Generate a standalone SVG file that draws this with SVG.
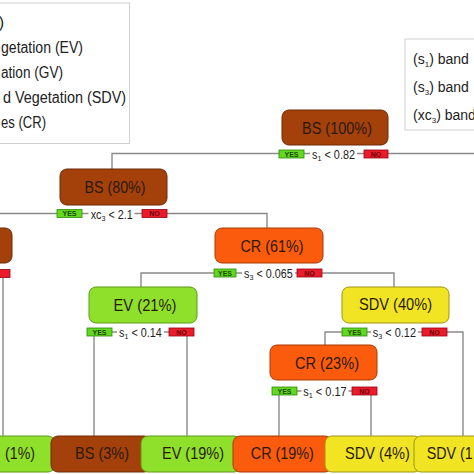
<svg xmlns="http://www.w3.org/2000/svg" width="474" height="474" viewBox="0 0 474 474">
<defs>
<style>
text{font-family:"Liberation Sans",Arial,sans-serif;}
.lg{font-size:16px;fill:#222;}
.lg2{font-size:14px;fill:#222;}
.nt{font-size:16.5px;fill:#2a1a0a;text-anchor:middle;}
.sl{font-size:12px;fill:#222;}
.sub{font-size:8px;}
.bs{fill:#a4400a;stroke:#6e2a05;stroke-width:1;}
.cr{fill:#fb5b0d;stroke:#a83a08;stroke-width:1;}
.ev{fill:#8fe02a;stroke:#5c9a18;stroke-width:1;}
.sdv{fill:#f1e523;stroke:#9e9512;stroke-width:1;}
.yes{fill:#62d81e;stroke:#2f8a0c;stroke-width:0.8;}
.no{fill:#ea1c2c;stroke:#9a0010;stroke-width:0.8;}
.yt{font-size:7px;font-weight:bold;fill:#1c4a04;text-anchor:middle;}
.nn{font-size:7px;font-weight:bold;fill:#6a0008;text-anchor:middle;}
.ln{fill:none;stroke:#8a8a8a;stroke-width:1.4;}
.bg{fill:#ffffff;}
.box{fill:#ffffff;stroke:#cfcfcf;stroke-width:1;}
</style>
</defs>
<rect width="474" height="474" fill="#ffffff"/>

<g id="legend-left">
<rect class="box" x="-5" y="3" width="134.5" height="140.5"/>
<text class="lg" x="4" y="27.5" text-anchor="end">)</text>
<text class="lg" x="83" y="53" text-anchor="end" textLength="82" lengthAdjust="spacingAndGlyphs">getation (EV)</text>
<text class="lg" x="63" y="77.5" text-anchor="end" textLength="62" lengthAdjust="spacingAndGlyphs">ation (GV)</text>
<text class="lg" x="126" y="103" text-anchor="end" textLength="123" lengthAdjust="spacingAndGlyphs">d Vegetation (SDV)</text>
<text class="lg" x="46" y="128" text-anchor="end" textLength="45" lengthAdjust="spacingAndGlyphs">es (CR)</text>
</g>

<g id="legend-right">
<rect class="box" x="405" y="39" width="80" height="91"/>
<text class="lg2" x="413" y="63.5">(s<tspan class="sub" dy="3">1</tspan><tspan dy="-3">) band</tspan></text>
<text class="lg2" x="413" y="91.5">(s<tspan class="sub" dy="3">3</tspan><tspan dy="-3">) band</tspan></text>
<text class="lg2" x="413" y="119.5">(xc<tspan class="sub" dy="3">3</tspan><tspan dy="-3">) band</tspan></text>
</g>

<g id="connectors">
<path class="ln" d="M112,169 V153.5 H279"/>
<path class="ln" d="M304,153.5 H364"/>
<path class="ln" d="M388,153.5 H474"/>
<path class="ln" d="M0,213.5 H57"/>
<path class="ln" d="M82,213.5 H142"/>
<path class="ln" d="M167,213.5 H267 V228"/>
<path class="ln" d="M3,278 V436"/>
<path class="ln" d="M214,273 H141 V287"/>
<path class="ln" d="M236,273 H297"/>
<path class="ln" d="M322,273 H394 V287"/>
<path class="ln" d="M112,332 H169"/>
<path class="ln" d="M94,336 V436"/>
<path class="ln" d="M187,336 V436"/>
<path class="ln" d="M342,332 H325 V345"/>
<path class="ln" d="M367,332 H422"/>
<path class="ln" d="M447,332 H463 V436"/>
<path class="ln" d="M297,391 H352"/>
<path class="ln" d="M279,395 V436"/>
<path class="ln" d="M371,395 V436"/>
</g>

<g id="node-bs100">
<rect class="bs" x="282" y="110" width="106" height="35" rx="7"/>
<text class="nt" x="337" y="133.5" textLength="70" lengthAdjust="spacingAndGlyphs">BS (100%)</text>
<rect class="yes" x="279" y="150" width="25" height="8"/>
<text class="yt" x="291.5" y="156.5">YES</text>
<rect class="bg" x="310" y="148" width="47" height="13"/>
<text class="sl" x="312" y="158.5" textLength="43" lengthAdjust="spacingAndGlyphs">s<tspan class="sub" dy="2.5">1</tspan><tspan dy="-2.5"> &lt; 0.82</tspan></text>
<rect class="no" x="364" y="150" width="24" height="8"/>
<text class="nn" x="376" y="156.5">NO</text>
</g>

<g id="node-bs80">
<rect class="bs" x="60" y="169" width="107" height="36" rx="7"/>
<text class="nt" x="115" y="192.5" textLength="61" lengthAdjust="spacingAndGlyphs">BS (80%)</text>
<rect class="yes" x="57" y="209.5" width="25" height="8"/>
<text class="yt" x="69.5" y="216">YES</text>
<rect class="bg" x="88.5" y="208" width="46" height="13"/>
<text class="sl" x="90.7" y="218.5" textLength="42" lengthAdjust="spacingAndGlyphs">xc<tspan class="sub" dy="2.5">3</tspan><tspan dy="-2.5"> &lt; 2.1</tspan></text>
<rect class="no" x="142" y="209.5" width="25" height="8"/>
<text class="nn" x="154.5" y="216">NO</text>
</g>

<g id="node-left">
<rect class="bs" x="-100" y="228" width="112" height="35" rx="7"/>
<rect class="no" x="-15" y="269.5" width="25" height="8"/>
</g>

<g id="node-cr61">
<rect class="cr" x="215" y="228" width="108" height="35" rx="7"/>
<text class="nt" x="272" y="251.5" textLength="63" lengthAdjust="spacingAndGlyphs">CR (61%)</text>
<rect class="yes" x="214" y="269" width="22" height="8"/>
<text class="yt" x="225" y="275.5">YES</text>
<rect class="bg" x="242" y="267" width="53" height="13"/>
<text class="sl" x="244" y="277.5" textLength="48.7" lengthAdjust="spacingAndGlyphs">s<tspan class="sub" dy="2.5">3</tspan><tspan dy="-2.5"> &lt; 0.065</tspan></text>
<rect class="no" x="297" y="269" width="25" height="8"/>
<text class="nn" x="309.5" y="275.5">NO</text>
</g>

<g id="node-ev21">
<rect class="ev" x="89" y="287" width="108" height="36" rx="7"/>
<text class="nt" x="145" y="310.5" textLength="63" lengthAdjust="spacingAndGlyphs">EV (21%)</text>
<rect class="yes" x="87" y="328" width="25" height="8"/>
<text class="yt" x="99.5" y="334.5">YES</text>
<rect class="bg" x="117" y="326" width="47" height="13"/>
<text class="sl" x="119" y="336.5" textLength="42.7" lengthAdjust="spacingAndGlyphs">s<tspan class="sub" dy="2.5">1</tspan><tspan dy="-2.5"> &lt; 0.14</tspan></text>
<rect class="no" x="169" y="328" width="25" height="8"/>
<text class="nn" x="181.5" y="334.5">NO</text>
</g>

<g id="node-sdv40">
<rect class="sdv" x="342" y="287" width="107" height="36" rx="7"/>
<text class="nt" x="395.5" y="309.5" textLength="73" lengthAdjust="spacingAndGlyphs">SDV (40%)</text>
<rect class="yes" x="342" y="328" width="25" height="8"/>
<text class="yt" x="354.5" y="334.5">YES</text>
<rect class="bg" x="371" y="326" width="47" height="13"/>
<text class="sl" x="372.7" y="336.5" textLength="43.3" lengthAdjust="spacingAndGlyphs">s<tspan class="sub" dy="2.5">3</tspan><tspan dy="-2.5"> &lt; 0.12</tspan></text>
<rect class="no" x="422" y="328" width="25" height="8"/>
<text class="nn" x="434.5" y="334.5">NO</text>
</g>

<g id="node-cr23">
<rect class="cr" x="270" y="345" width="107" height="35" rx="7"/>
<text class="nt" x="327" y="369" textLength="64" lengthAdjust="spacingAndGlyphs">CR (23%)</text>
<rect class="yes" x="272" y="387" width="25" height="8"/>
<text class="yt" x="284.5" y="393.5">YES</text>
<rect class="bg" x="301.5" y="385" width="47" height="13"/>
<text class="sl" x="303.3" y="395.5" textLength="43.3" lengthAdjust="spacingAndGlyphs">s<tspan class="sub" dy="2.5">1</tspan><tspan dy="-2.5"> &lt; 0.17</tspan></text>
<rect class="no" x="352" y="387" width="25" height="8"/>
<text class="nn" x="364.5" y="393.5">NO</text>
</g>

<g id="leaf-1">
<rect class="ev" x="-50" y="436" width="105" height="36" rx="7"/>
<text class="nt" x="20" y="459" textLength="30" lengthAdjust="spacingAndGlyphs">(1%)</text>
</g>
<g id="leaf-bs3">
<rect class="bs" x="51" y="436" width="100" height="36" rx="7"/>
<text class="nt" x="102" y="459" textLength="54" lengthAdjust="spacingAndGlyphs">BS (3%)</text>
</g>
<g id="leaf-ev19">
<rect class="ev" x="141" y="436" width="100" height="36" rx="7"/>
<text class="nt" x="193" y="459" textLength="62" lengthAdjust="spacingAndGlyphs">EV (19%)</text>
</g>
<g id="leaf-cr19">
<rect class="cr" x="233" y="436" width="99" height="36" rx="7"/>
<text class="nt" x="282.3" y="459" textLength="63" lengthAdjust="spacingAndGlyphs">CR (19%)</text>
</g>
<g id="leaf-sdv4">
<rect class="sdv" x="325" y="436" width="96" height="36" rx="7"/>
<text class="nt" x="377.5" y="459" textLength="65" lengthAdjust="spacingAndGlyphs">SDV (4%)</text>
</g>
<g id="leaf-sdv1">
<rect class="sdv" x="414" y="436" width="106" height="36" rx="7"/>
<text class="nt" x="426.7" y="459" style="text-anchor:start" textLength="46" lengthAdjust="spacingAndGlyphs">SDV (1</text>
</g>
</svg>
